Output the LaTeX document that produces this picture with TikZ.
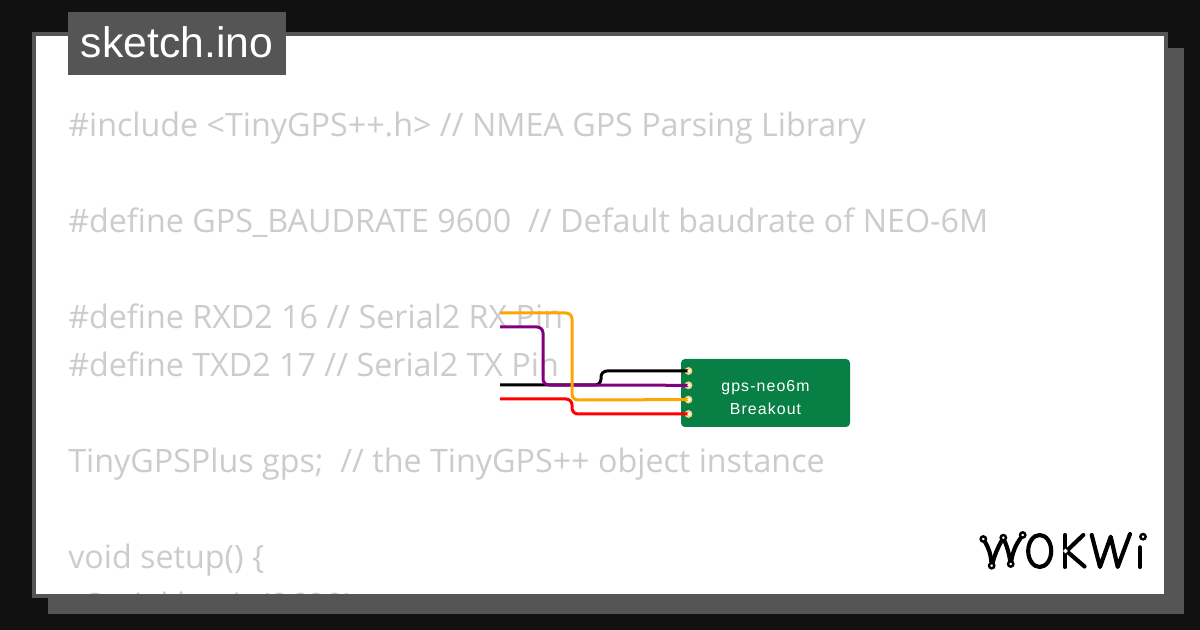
\documentclass[tikz,border=0pt]{standalone}
\usepackage{fontspec}
\setmainfont{Open Sans}
\newfontfamily\titlefont{Liberation Sans}
\newfontfamily\chipfont[LetterSpace=7]{Liberation Sans}
\usetikzlibrary{positioning}
\definecolor{pagedark}{HTML}{111111}
\definecolor{framegray}{HTML}{555555}
\definecolor{codegray}{HTML}{CCCCCC}
\definecolor{chipgreen}{HTML}{087F45}
\definecolor{wireorange}{HTML}{FFA500}
\definecolor{wirepurple}{HTML}{800080}
\definecolor{pingold}{HTML}{F5D67A}
\tikzset{
    codetext/.style={anchor=base west,inner sep=0pt,text=codegray,font=\fontsize{24.2}{24.2}\selectfont},
    chiptext/.style={inner sep=0pt,text=white,font=\chipfont\fontsize{11.9}{11.9}\selectfont},
    wire/.style={line width=2.25pt,rounded corners=4.5pt},
    pinhole/.style={circle,draw=pingold,fill=white,line width=1.2pt,minimum size=4.6pt,inner sep=0pt},
    logoline/.style={draw=black,line width=3.1pt,line cap=round,line join=round},
    logoring/.style={circle,draw=black,fill=white,line width=1.8pt,minimum size=4pt,inner sep=0pt},
}
\begin{document}
\begin{tikzpicture}[x=0.75pt,y=-0.75pt]
\useasboundingbox (0,0) rectangle (1200,630);
    %page
    \fill[pagedark] (0,0) rectangle (1200,630);
    \fill[framegray] (48,48) rectangle (1184,614);
    \fill[framegray] (32,32) rectangle (1168,598);
    \fill[white] (36,36) rectangle (1164,594);
    %code
    \begin{scope}
    \clip (36,36) rectangle (1164,594);
    \node[codetext] (include) at (68,137) {\#include <TinyGPS++.h> // NMEA GPS Parsing Library};
    \node[codetext] (baudrate) at (68,233) {\#define GPS\_BAUDRATE 9600\ \ // Default baudrate of NEO-6M};
    \node[codetext] (rxd) at (68,329) {\#define RXD2 16 // Serial2 RX Pin};
    \node[codetext] (txd) at (68,377) {\#define TXD2 17 // Serial2 TX Pin};
    \node[codetext] (gps) at (68,473) {TinyGPSPlus gps;\ \ // the TinyGPS++ object instance};
    \node[codetext] (setup) at (68,569) {void setup() \{};
    \node[codetext] (serial) at (85,617) {Serial.begin(9600);};
    \end{scope}
    %title
    \fill[framegray] (68,12) rectangle (286,75);
    \node[inner sep=0pt,anchor=base,text=white,font=\titlefont\fontsize{32}{32}\selectfont] (title) at (177,58) {sketch.ino};
    %chip
    \node[fill=chipgreen,rounded corners=3pt,minimum width=126.75pt,minimum height=51pt,inner sep=0pt] (chip) at (765.5,393) {};
    \node[chiptext] (chipname) at (765.5,387.5) {gps-neo6m};
    \node[chiptext] (chipkind) at (765.5,409) {Breakout};
    %pins
    \node[pinhole] (vcc) at (688.5,371) {};
    \node[pinhole] (rx) at (688.5,385.3) {};
    \node[pinhole] (tx) at (688.5,399.6) {};
    \node[pinhole] (gnd) at (688.5,414) {};
    %wire ends
    \coordinate (orangeend) at (500,313);
    \coordinate (purpleend) at (500,327);
    \coordinate (blackend) at (500,385);
    \coordinate (redend) at (500,399);
    %wires
    \draw[wire,black] (blackend) -- (601,385) -- (601,371) -- (vcc.center);
    \draw[wire,wirepurple] (purpleend) -- (543,327) -- (543,385) -- (rx.center);
    \draw[wire,wireorange] (orangeend) -- (572,313) -- (572,400) -- (tx.center);
    \draw[wire,red] (redend) -- (572,399) -- (572,414) -- (gnd.center);
    %pins on top
    \foreach \p in {vcc,rx,tx,gnd}
        \fill[white] (\p.center) circle (1pt);
    %logo
    \node[logoring] (ringa) at (983.3,539) {};
    \node[logoring] (ringb) at (1003.3,537.7) {};
    \node[logoring] (ringc) at (1022.7,535) {};
    \node[logoring] (ringd) at (991.7,565.7) {};
    \node[logoring] (ringe) at (1010.7,564) {};
    \draw[logoline] (ringa) to[bend left=12] (ringd);
    \draw[logoline] (ringd) to[bend left=6] (ringb);
    \draw[logoline] (ringb) to[bend left=6] (ringe);
    \draw[logoline] (ringe) to[bend left=12] (ringc);
    \draw[logoline] (1039.7,551) ellipse [x radius=11.5,y radius=16];
    \draw[logoline] (1065,535) -- (1065,567);
    \draw[logoline] (1083.3,535) -- (1066.5,551) -- (1084.5,566.5);
    \node[logoring,minimum size=2.6pt,line width=0.6pt,draw=white] (ringk) at (1065.5,551) {};
    \draw[logoline] (1091.7,535) -- (1100,567) -- (1110.7,536.7) -- (1117.7,567) -- (1130,534);
    \draw[logoline] (1140,547.3) -- (1140,567);
    \node[logoring] (ringi) at (1143,536.7) {};
\end{tikzpicture}
\end{document}
